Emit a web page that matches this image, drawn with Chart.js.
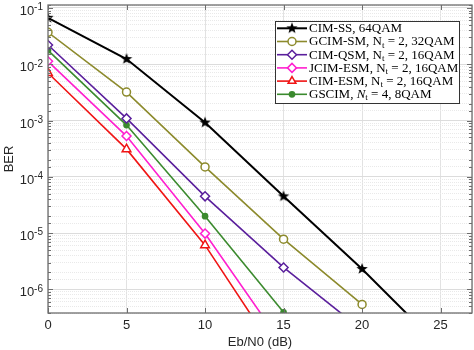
<!DOCTYPE html>
<html>
<head>
<meta charset="utf-8">
<script src="https://cdn.jsdelivr.net/npm/chart.js@4.4.1/dist/chart.umd.min.js"></script>
<style>
  html, body { margin: 0; padding: 0; background: #fff; }
  #wrap { width: 474px; height: 350px; }
</style>
</head>
<body>
<div id="wrap"><canvas id="berChart"></canvas></div>
<script>
"use strict";

// Eb/N0 (dB)
const snr = [0, 5, 10, 15, 20, 25];

// BER per scheme (null = not simulated)
const cimSS = [0.067, 0.0124, 9.2e-4, 4.5e-5, 2.3e-6, 9.3e-8];
const gcimSM = [0.037, 3.2e-3, 1.5e-4, 7.8e-6, 5.4e-7, null];
const cimQSM = [0.022, 1.09e-3, 4.5e-5, 2.45e-6, 1.9e-7, null];
const jcimESM = [0.0113, 5.3e-4, 9.8e-6, 9.8e-8, null, null];
const cimESM = [0.0070, 3.1e-4, 6.1e-6, 4.7e-8, null, null];
const gscim = [0.0177, 8.3e-4, 2.0e-5, 3.9e-7, null, null];

const seriesLabels = [
	"CIM-SS, 64QAM",
	"GCIM-SM, N_t = 2, 32QAM",
	"CIM-QSM, N_t = 2, 16QAM",
	"JCIM-ESM, N_t = 2, 16QAM",
	"CIM-ESM, N_t = 2, 16QAM",
	"GSCIM, $N$_t = 4, 8QAM",
];
const seriesColors = ["#000000", "#8c8a2c", "#5a1f9c", "#ff1fcf", "#f01414", "#3b8a2e"];

const xTicks = [0, 5, 10, 15, 20, 25];
const yExponents = [-6, -5, -4, -3, -2, -1];

const SANS = '"Liberation Sans", Arial, sans-serif';

function isDecade(v) {
	const l = Math.log10(v);
	return Math.abs(l - Math.round(l)) < 1e-9;
}

function makeStar(r, color) {
	const s = Math.ceil(r * 2 + 2);
	const c = document.createElement("canvas");
	c.width = s;
	c.height = s;
	const g = c.getContext("2d");
	g.beginPath();
	for (let i = 0; i < 10; i++) {
		const rad = i % 2 === 0 ? r : r * 0.42;
		const a = -Math.PI / 2 + (i * Math.PI) / 5;
		g.lineTo(s / 2 + rad * Math.cos(a), s / 2 + rad * Math.sin(a));
	}
	g.closePath();
	g.fillStyle = color;
	g.fill();
	return c;
}

const toPoints = (arr) =>
	snr.map((x, i) => ({ x: x, y: arr[i] })).filter((p) => p.y !== null);

const markerStyles = [
	{ pointStyle: makeStar(6, "#000000"), pointRadius: 6, fill: "#000000" },
	{ pointStyle: "circle", pointRadius: 4, fill: "#ffffff" },
	{ pointStyle: "rectRot", pointRadius: 4.5, fill: "#ffffff" },
	{ pointStyle: "rectRot", pointRadius: 4.5, fill: "#ffffff" },
	{ pointStyle: "triangle", pointRadius: 5, fill: "#ffffff" },
	{ pointStyle: "circle", pointRadius: 2.6, fill: "#3b8a2e" },
];

const allSeries = [cimSS, gcimSM, cimQSM, jcimESM, cimESM, gscim];

const datasets = allSeries.map((arr, i) => ({
	label: seriesLabels[i],
	data: toPoints(arr),
	borderColor: seriesColors[i],
	backgroundColor: markerStyles[i].fill,
	pointBackgroundColor: markerStyles[i].fill,
	pointBorderColor: seriesColors[i],
	pointBorderWidth: 1.5,
	pointStyle: markerStyles[i].pointStyle,
	pointRadius: markerStyles[i].pointRadius,
	borderWidth: i === 0 ? 2 : 1.6,
	tension: 0,
}));

// draw text with _x subscripts and $..$ italics
function drawRich(ctx, text, x, y, size, family) {
	let italic = false;
	let i = 0;
	while (i < text.length) {
		const ch = text[i];
		if (ch === "$") {
			italic = !italic;
			i++;
			continue;
		}
		if (ch === "_" && i + 1 < text.length) {
			ctx.font = `${size * 0.7}px ${family}`;
			ctx.fillText(text[i + 1], x, y + size * 0.25);
			x += ctx.measureText(text[i + 1]).width;
			i += 2;
			continue;
		}
		ctx.font = `${italic ? "italic " : ""}${size}px ${family}`;
		ctx.fillText(ch, x, y);
		x += ctx.measureText(ch).width;
		i++;
	}
}

const legendBox = {
	id: "legendBox",
	afterDatasetsDraw(chart) {
		const { ctx, chartArea } = chart;
		const w = 184;
		const h = 82;
		const x0 = chartArea.right - 13 - w;
		const y0 = chartArea.top + 16;
		ctx.save();
		ctx.fillStyle = "#ffffff";
		ctx.fillRect(x0, y0, w, h);
		ctx.strokeStyle = "#333333";
		ctx.lineWidth = 1;
		ctx.strokeRect(x0 + 0.5, y0 + 0.5, w, h);
		chart.data.datasets.forEach((ds, i) => {
			const cy = y0 + 7.3 + i * 13.2;
			ctx.strokeStyle = ds.borderColor;
			ctx.lineWidth = ds.borderWidth;
			ctx.beginPath();
			ctx.moveTo(x0 + 2, cy);
			ctx.lineTo(x0 + 32, cy);
			ctx.stroke();
			ctx.fillStyle = ds.pointBackgroundColor;
			ctx.strokeStyle = ds.pointBorderColor;
			ctx.lineWidth = ds.pointBorderWidth;
			Chart.helpers.drawPoint(ctx, {
				pointStyle: ds.pointStyle,
				radius: Math.min(ds.pointRadius, 4.5),
				rotation: 0,
				borderWidth: ds.pointBorderWidth,
			}, x0 + 17, cy);
			ctx.fillStyle = "#000000";
			ctx.textBaseline = "middle";
			ctx.textAlign = "left";
			drawRich(ctx, ds.label, x0 + 34, cy + 0.5, 13, '"Liberation Serif", serif');
		});
		ctx.restore();
	},
};

const axisFrame = {
	id: "axisFrame",
	afterDraw(chart) {
		const { ctx, chartArea, scales } = chart;
		const { left, right, top, bottom } = chartArea;
		ctx.save();
		ctx.strokeStyle = "#6e6e6e";
		ctx.lineWidth = 1;
		ctx.beginPath();
		scales.y.ticks.forEach((t) => {
			const py = Math.round(scales.y.getPixelForValue(t.value)) + 0.5;
			const len = isDecade(t.value) ? 5 : 3;
			ctx.moveTo(left, py);
			ctx.lineTo(left + len, py);
			ctx.moveTo(right, py);
			ctx.lineTo(right - len, py);
		});
		xTicks.forEach((v) => {
			const px = Math.round(scales.x.getPixelForValue(v)) + 0.5;
			ctx.moveTo(px, bottom);
			ctx.lineTo(px, bottom - 5);
			ctx.moveTo(px, top);
			ctx.lineTo(px, top + 5);
		});
		ctx.stroke();
		ctx.lineWidth = 1.3;
		ctx.strokeRect(left, top, right - left, bottom - top);

		// y tick labels: 10 with raised exponent
		ctx.fillStyle = "#262626";
		ctx.textAlign = "right";
		ctx.textBaseline = "middle";
		yExponents.forEach((e) => {
			const py = scales.y.getPixelForValue(Math.pow(10, e));
			const xr = left - 5;
			ctx.font = `10px ${SANS}`;
			const expText = String(e);
			ctx.fillText(expText, xr, py - 0.5);
			const ew = ctx.measureText(expText).width;
			ctx.font = `13px ${SANS}`;
			ctx.fillText("10", xr - ew, py + 3.5);
		});
		ctx.restore();
	},
};

const ctx1 = document.getElementById("berChart");

new Chart(ctx1, {
	type: "line",
	data: { datasets: datasets },
	plugins: [legendBox, axisFrame],
	options: {
		responsive: true,
		maintainAspectRatio: false,
		animation: false,
		layout: { autoPadding: false, padding: { top: 5, right: 2, left: 0, bottom: 0 } },
		plugins: {
			legend: { display: false },
			tooltip: { enabled: false },
		},
		scales: {
			x: {
				type: "linear",
				min: 0,
				max: 27,
				afterBuildTicks: (scale) => {
					scale.ticks = xTicks.concat([27]).map((v) => ({ value: v }));
				},
				afterFit: (scale) => {
					scale.height = 37;
					scale.paddingRight = 0;
				},
				grid: { color: "#e2e2e2", drawTicks: true, tickLength: 5, tickColor: "rgba(0,0,0,0)" },
				border: { display: false },
				ticks: {
					padding: 0,
					color: "#262626",
					font: { family: SANS, size: 13 },
					callback: (value) => (xTicks.includes(value) ? String(value) : ""),
				},
				title: {
					display: true,
					text: "Eb/N0 (dB)",
					color: "#262626",
					padding: { top: 0, bottom: 0 },
					font: { family: SANS, size: 13 },
				},
			},
			y: {
				type: "logarithmic",
				min: 3.8e-7,
				max: 0.113,
				afterFit: (scale) => {
					scale.width = 48;
				},
				grid: {
					drawTicks: false,
					color: (c) => (c.tick && isDecade(c.tick.value) ? "#dcdcdc" : "#e9e9e9"),
				},
				border: {
					display: false,
					dash: (c) => (c.tick && isDecade(c.tick.value) ? [] : [1, 1]),
				},
				ticks: {
					display: false,
					autoSkip: false,
				},
				title: {
					display: true,
					text: "BER",
					color: "#262626",
					padding: { top: 2, bottom: 0 },
					font: { family: SANS, size: 13 },
				},
			},
		},
	},
});
</script>
</body>
</html>
